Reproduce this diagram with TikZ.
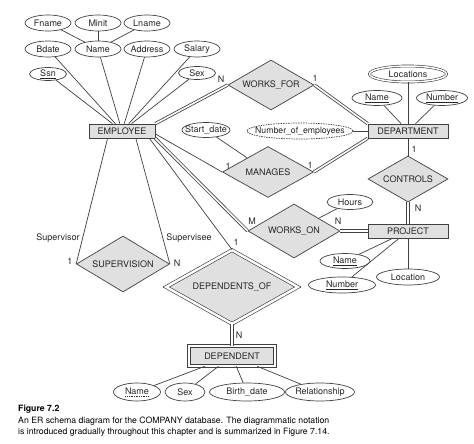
\documentclass[tikz,border=0pt]{standalone}
\usepackage{fontspec}
\setmainfont{TeX Gyre Heros}
\usetikzlibrary{shapes.geometric}
\newcommand{\partkey}[1]{\setbox0\hbox{#1}\rlap{\raisebox{-2pt}{\hbox to \wd0{\xleaders\hbox to 1.6pt{\hss\rule{0.9pt}{0.5pt}\hss}\hfill}}}\box0}

\begin{document}
\begin{tikzpicture}[x=1pt,y=-1pt]

\tikzset{every node/.style={font=\fontsize{9}{10}\selectfont, text=black!85},
  entity/.style={rectangle, draw=black!75, fill=black!12, line width=0.7pt, minimum width=#1, minimum height=14, inner sep=0pt},
  weakentity/.style={entity=#1, line width=0.7pt, double=white, double distance=2.2pt, minimum height=20},
  rel/.style 2 args={diamond, aspect=1.7, draw=black!75, fill=black!12, line width=0.7pt, minimum width=#1, minimum height=#2, inner sep=0pt},
  weakrel/.style 2 args={rel={#1}{#2}, line width=0.65pt, double=white, double distance=2.4pt},
  attr/.style={ellipse, draw=black!75, fill=white, line width=0.7pt, minimum width=#1, minimum height=16, inner xsep=-4pt, inner ysep=0pt},
  attr/.default=46,
  multiattr/.style={attr=#1, line width=0.6pt, double=white, double distance=1.5pt},
  derived/.style={attr=#1, dash pattern=on 1.5pt off 1pt, inner xsep=-10pt, font=\fontsize{8.7}{10}\selectfont},
  link/.style={draw=black!75, line width=0.7pt},
  total/.style={link, line width=0.8pt, double=white, double distance=1.6pt},
  card/.style={inner sep=1pt}}

\useasboundingbox (0,0) rectangle (474,444);

\node[attr] (Fname) at (48,23) {Fname};
\node[attr] (Minit) at (98,23) {Minit};
\node[attr] (Lname) at (147,23) {Lname};
\node[attr] (Bdate) at (48,49) {Bdate};
\node[attr] (EName) at (98,49) {Name};
\node[attr] (Address) at (147,49) {Address};
\node[attr] (Salary) at (197,49) {Salary};
\node[attr=37, minimum height=13] (Ssn) at (48,74) {\underline{Ssn}};
\node[attr=37, minimum height=13] (ESex) at (197,73) {Sex};
\node[entity=66] (EMP) at (122,131) {EMPLOYEE};
\draw[link] (Fname) -- (EName);
\draw[link] (Minit) -- (EName);
\draw[link] (Lname) -- (EName);
\draw[link] (Bdate) -- (EMP);
\draw[link] (EName) -- (EMP);
\draw[link] (Address) -- (EMP);
\draw[link] (Salary) -- (EMP);
\draw[link] (Ssn) -- (EMP);
\draw[link] (ESex) -- (EMP);

\node[entity=80] (DEPT) at (408,131) {DEPARTMENT};
\node[multiattr=77] (DLoc) at (408,74) {Locations};
\node[attr=50, minimum height=15] (DName) at (377,98) {\underline{Name}};
\node[attr=51, minimum height=15] (DNum) at (442,98) {\underline{Number}};
\node[derived=106] (NoE) at (300,131) {Number\_of\_employees};
\draw[link] (DLoc) -- (DEPT);
\draw[link] (DName) -- (DEPT);
\draw[link] (DNum) -- (DEPT);
\draw[link] (NoE) -- (DEPT);

\node[rel={86}{50}] (WF) at (271,85) {WORKS\_FOR};
\draw[total] (EMP.north east) -- (WF.west);
\draw[total] (WF.east) -- (DEPT.north west);
\node[card] (nEW) at (221,79) {N};
\node[card] (oWD) at (315,78) {1};

\node[rel={91}{51}] (MAN) at (268,172) {MANAGES};
\node[attr=48, minimum height=15] (SDate) at (206,130) {Start\_date};
\draw[link] (SDate) -- (MAN);
\draw[link] (EMP.-5) -- (MAN.west);
\draw[total] (MAN.east) -- (DEPT.south west);
\node[card] (oEM) at (228,166) {1};
\node[card] (oMD) at (310,165) {1};

\node[entity=80] (PROJ) at (408,231) {PROJECT};
\node[rel={80}{46}] (CON) at (408,179) {CONTROLS};
\draw[link] (DEPT) -- (CON);
\draw[total] (CON) -- (PROJ);
\node[card] (oDC) at (414,149) {1};
\node[card] (nCP) at (418,208) {N};
\node[attr=50, minimum height=15] (PName) at (345,261) {\underline{Name}};
\node[attr=67] (PNum) at (342,285) {\underline{Number}};
\node[attr=63] (PLoc) at (408,277) {Location};
\draw[link] (PName) -- (PROJ);
\draw[link] (PNum) -- (PROJ);
\draw[link] (PLoc) -- (PROJ);

\node[rel={92}{54}] (WO) at (294,231) {WORKS\_ON};
\node[attr=46, minimum height=15] (Hours) at (350,202) {Hours};
\draw[link] (Hours) -- (WO);
\draw[total] (EMP.south east) -- (WO.west);
\draw[total] (WO.east) -- (PROJ.west);
\node[card] (mEW) at (252,221) {M};
\node[card] (nWP) at (338,221) {N};

\node[rel={93}{56}] (SUP) at (123,264) {SUPERVISION};
\draw[link] (EMP.-153) -- (SUP.west);
\draw[link] (EMP.-28) -- (SUP.east);
\node (Suvr) at (58,238) {Supervisor};
\node (Suve) at (189,238) {Supervisee};
\node[card] (oSup) at (70,261) {1};
\node[card] (nSup) at (177,263) {N};

\node[weakrel={132}{74}] (DO) at (232,287) {DEPENDENTS\_OF};
\node[weakentity=86] (DEP) at (232,356) {DEPENDENT};
\draw[link] (EMP.-15) -- (DO.north);
\draw[total] (DO.south) -- (DEP.north);
\node[card] (oED) at (236,242) {1};
\node[card] (nDD) at (239,335) {N};
\node[attr=47, minimum height=18] (DepName) at (137,392) {\partkey{Name}};
\node[attr=40, minimum height=18] (DepSex) at (185,392) {Sex};
\node[attr=75, minimum height=18] (Birth) at (247,392) {Birth\_date};
\node[attr=69, minimum height=18] (Relsh) at (320,392) {Relationship};
\draw[link] (DepName) -- (DEP);
\draw[link] (DepSex) -- (DEP);
\draw[link] (Birth) -- (DEP);
\draw[link] (Relsh) -- (DEP);

\node[anchor=north west, align=left, inner sep=0pt, font=\fontsize{8.7}{11.5}\selectfont, text=black] (Caption) at (18,405) {\textbf{Figure 7.2}\\An ER schema diagram for the COMPANY database. The diagrammatic notation\\is introduced gradually throughout this chapter and is summarized in Figure 7.14.};

\end{tikzpicture}
\end{document}
